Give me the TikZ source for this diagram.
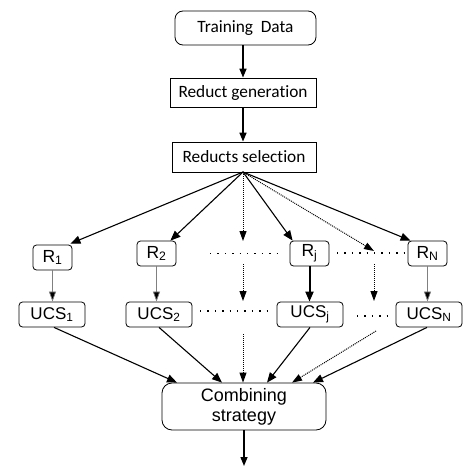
\documentclass[tikz,border=0pt]{standalone}
\usepackage{fontspec}
\setmainfont{Liberation Sans}
\newfontfamily\carlfont[Ligatures={NoCommon,NoRequired,NoContextual}]{Carlito}
\usetikzlibrary{arrows.meta,calc}
\tikzset{
  topbox/.style={draw,line width=0.8pt,inner sep=0pt,font=\carlfont\fontsize{17.3}{19}\selectfont},
  rbox/.style={draw,rounded corners=3.5pt,line width=0.8pt,inner sep=0pt,minimum width=39pt,minimum height=25pt,font=\fontsize{17.5}{18}\selectfont},
  ubox/.style={draw,rounded corners=3.5pt,line width=0.8pt,inner sep=0pt,minimum width=66pt,minimum height=25pt,font=\fontsize{17}{18}\selectfont},
  mainarr/.style={line width=1.6pt,-{Triangle[length=9pt,width=7pt]}},
  fanarr/.style={line width=1.1pt,-{Triangle[length=10pt,width=8pt]}},
  grayarr/.style={line width=0.7pt,draw=gray,-{Triangle[length=10pt,width=7pt,fill=black]}},
  thickarr/.style={line width=2pt,-{Triangle[length=10pt,width=8pt]}},
  dotarr/.style={line width=1pt,densely dotted,-{Triangle[length=10pt,width=7pt]}},
  dotline/.style={line width=1.4pt,dash pattern=on 1.4pt off 6pt},
}
\begin{document}
\begin{tikzpicture}[x=1pt,y=-1pt]
\useasboundingbox (0,0) rectangle (474,474);
% top chain
\node[topbox,rounded corners=8pt,minimum width=141pt,minimum height=34pt] (train) at (245.5,28) {Training\ \ Data};
\node[topbox,minimum width=146pt,minimum height=29pt] (gen) at (243,92.5) {Reduct generation};
\node[topbox,minimum width=144pt,minimum height=30pt] (sel) at (244,157) {Reducts selection};
\draw[mainarr] (train.south -| gen.north) -- (gen.north);
\draw[mainarr] (gen.south) -- (gen.south |- sel.north);
% R row
\node[rbox] (R1) at (52.5,257.5) {R\textsubscript{1}};
\node[rbox] (R2) at (156.5,253.5) {R\textsubscript{2}};
\node[rbox] (Rj) at (309.5,253.5) {R\textsubscript{j}};
\node[rbox] (RN) at (427.5,253.5) {R\textsubscript{N}};
% UCS row
\node[ubox] (U1) at (52,314.5) {UCS\textsubscript{1}};
\node[ubox] (U2) at (159,314.5) {UCS\textsubscript{2}};
\node[ubox] (Uj) at (310,314.5) {UCS\textsubscript{j}};
\node[ubox] (UN) at (429,314.5) {UCS\textsubscript{N}};
% combining
\node[draw,rounded corners=10pt,line width=0.8pt,minimum width=164pt,minimum height=47pt,inner sep=0pt,align=center,font=\fontsize{18}{20}\selectfont] (comb) at (244,406.5) {Combining\\strategy};
\coordinate (out) at (244,466);
\draw[mainarr,line width=1.4pt] (comb.south) -- (out);
% source point
\coordinate (src) at (243,172);
% fan
\draw[fanarr] (src) -- ($(R1.north east)+(-2,-1)$);
\draw[fanarr] (src) -- ($(R2.north east)+(-6,0)$);
\draw[fanarr] (src) -- ($(Rj.north west)+(3,0)$);
\draw[fanarr] (src) -- ($(RN.north west)+(3,0)$);
% dotted column 1
\coordinate (a1) at (243,241);
\coordinate (a2) at (243,264);
\coordinate (a3) at (243,301);
\coordinate (a4) at (243,334);
\draw[dotarr] (src) -- (a1);
\draw[dotarr] (a2) -- (a3);
\draw[dotarr] (a4) -- (comb.north -| a4);
% dotted column 2
\coordinate (b1) at (374,251);
\coordinate (b2) at (374,264);
\coordinate (b3) at (374,301);
\coordinate (b4) at (376,331);
\draw[dotarr] (src) -- (b1);
\draw[dotarr] (b2) -- (b3);
\draw[dotarr] (b4) -- ($(comb.north)+(48,0)$);
% horizontal dotted lines
\coordinate (h1) at (210,253.5);
\coordinate (h2) at (280,253.5);
\coordinate (h3) at (337,253);
\coordinate (h4) at (404,253);
\draw[dotline] (h1) -- (h2);
\draw[dotline] (h3) -- (h4);
\coordinate (h5) at (200,311);
\coordinate (h6) at (270,311);
\coordinate (h7) at (357,316);
\coordinate (h8) at (393,316);
\draw[dotline] (h5) -- (h6);
\draw[dotline] (h7) -- (h8);
% R -> UCS
\draw[grayarr] (R1.south) -- (R1.south |- U1.north);
\draw[grayarr] (R2.south) -- (R2.south |- U2.north);
\draw[thickarr] (Rj.south) -- (Rj.south |- Uj.north);
\draw[grayarr] (RN.south) -- (RN.south |- UN.north);
% UCS -> comb
\draw[fanarr] ($(U1.south)+(2,0)$) -- ($(comb.north)+(-67,0)$);
\draw[fanarr] (U2.south) -- ($(comb.north)+(-22,0)$);
\draw[fanarr] (Uj.south) -- ($(comb.north)+(23,0)$);
\draw[fanarr] ($(UN.south)+(-2,0)$) -- ($(comb.north)+(69,0)$);
\end{tikzpicture}
\end{document}
